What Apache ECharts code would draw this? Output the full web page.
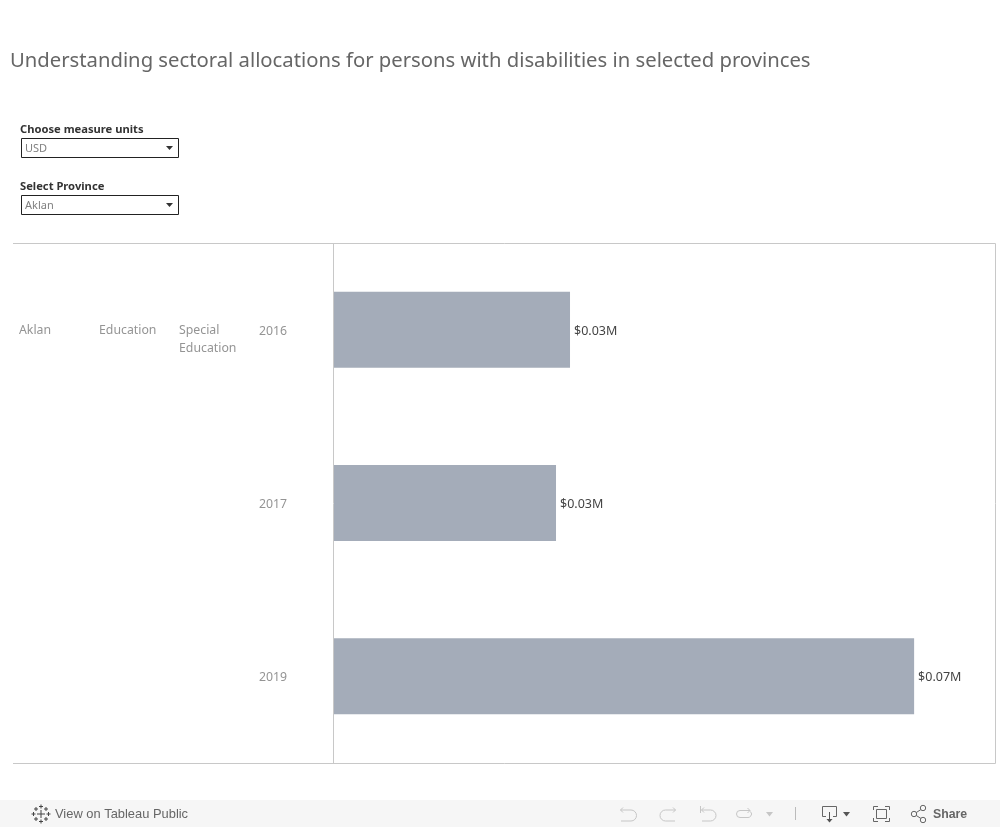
<!DOCTYPE html>
<html>
<head>
<meta charset="utf-8">
<style>html,body{margin:0;padding:0;background:#fff}#chart{width:1000px;height:827px}</style>
<script src="https://cdn.jsdelivr.net/npm/echarts@6/dist/echarts.min.js"></script>
</head>
<body>
<div id="chart"></div>
<script>
// Allocation per year, in millions of USD
const years = ['2016', '2017', '2019'];
const allocations = [0.03035, 0.02855, 0.0746];
const axisMax = 0.085;
const province = 'Aklan';
const sector = 'Education';
const program = 'Special\nEducation';
const heading = 'Understanding sectoral allocations for persons with disabilities in selected provinces';
const unitFilter = ['Choose measure units', 'USD'];
const provinceFilter = ['Select Province', 'Aklan'];

const BODY = '"Noto Sans", sans-serif';
const TOOL = '"Liberation Sans", sans-serif';
const ruleColor = '#c8c8c8';
const headerColor = '#949494';
const faintIcon = '#c6c6c6';
const darkIcon = '#666666';
const stripColor = '#f6f6f6';

function txt(x, y, text, size, fill, extra) {
  return { type: 'text', silent: true, style: Object.assign({
    x, y, text, fontFamily: BODY, fontSize: size, fill,
    verticalAlign: 'middle', lineHeight: 18
  }, extra || {}) };
}
function rule(x1, y1, x2, y2, color) {
  return { type: 'line', silent: true, shape: { x1, y1, x2, y2 },
    style: { stroke: color || ruleColor, lineWidth: 1 } };
}
function stroke(points, color) {
  return { type: 'polyline', silent: true, shape: { points },
    style: { stroke: color, lineWidth: 1, fill: 'none' } };
}
function curve(cx, cy, r, startAngle, endAngle, color) {
  return { type: 'arc', silent: true, shape: { cx, cy, r, startAngle, endAngle, clockwise: true },
    style: { stroke: color, lineWidth: 1, fill: 'none' } };
}
function caret(x, y, w, h, color) {
  return { type: 'polygon', silent: true, shape: { points: [[x, y], [x + w, y], [x + w / 2, y + h]] },
    style: { fill: color } };
}
function node(cx, cy) {
  return { type: 'circle', silent: true, z: 5, shape: { cx, cy, r: 2.7 },
    style: { fill: stripColor, stroke: darkIcon, lineWidth: 1 } };
}
function dropdown(top, label, value) {
  return [
    txt(20, top + 2, label, 11.2, '#333333', { fontWeight: 'bold' }),
    { type: 'rect', silent: true, shape: { x: 21.5, y: top + 10.5, width: 157, height: 19 },
      style: { fill: '#fff', stroke: '#222222', lineWidth: 1 } },
    txt(25, top + 21, value, 11, '#808080'),
    caret(166, top + 18, 7, 4, '#333333')
  ];
}

// Tableau-style cross mark built from short strokes
const logo = [];
[[41, 814, 4], [41, 806.5, 2], [41, 821.5, 2], [33.5, 814, 2], [48.5, 814, 2],
 [36, 809, 2], [46, 809, 2], [36, 819, 2], [46, 819, 2]].forEach(([x, y, r]) => {
  logo.push(rule(x - r, y, x + r, y, '#444444'), rule(x, y - r, x, y + r, '#444444'));
});

const HALF_PI = Math.PI / 2;
const toolbar = [
  { type: 'rect', silent: true, z: -1, shape: { x: 0, y: 800, width: 1000, height: 27 }, style: { fill: stripColor } },
  txt(55, 814.5, 'View on Tableau Public', 12.9, darkIcon, { fontFamily: TOOL }),
  txt(933, 814.5, 'Share', 12.3, darkIcon, { fontFamily: TOOL, fontWeight: 'bold' }),
  rule(795.5, 807, 795.5, 820, '#bbbbbb'),
  // undo
  stroke([[623, 807.5], [620.5, 810], [623, 812.5]], faintIcon),
  stroke([[620.5, 810], [631, 810]], faintIcon),
  curve(631, 815.5, 5.5, -HALF_PI, HALF_PI, faintIcon),
  stroke([[631, 821], [621, 821]], faintIcon),
  // redo
  stroke([[673, 807.5], [675.5, 810], [673, 812.5]], faintIcon),
  stroke([[675.5, 810], [665.5, 810]], faintIcon),
  curve(665.5, 815.5, 5.5, HALF_PI, -HALF_PI, faintIcon),
  stroke([[665.5, 821], [675, 821]], faintIcon),
  // revert
  rule(700.5, 806, 700.5, 813, faintIcon),
  stroke([[704, 807.5], [701.5, 810], [704, 812.5]], faintIcon),
  stroke([[701.5, 810], [710.5, 810]], faintIcon),
  curve(710.5, 815.5, 5.5, -HALF_PI, HALF_PI, faintIcon),
  stroke([[710.5, 821], [702, 821]], faintIcon),
  // refresh
  stroke([[750, 810.5], [740, 810.5]], faintIcon),
  curve(740, 814, 3.5, HALF_PI, -HALF_PI, faintIcon),
  stroke([[740, 817.5], [748, 817.5]], faintIcon),
  curve(748, 814, 3.5, -HALF_PI * 0.5, HALF_PI, faintIcon),
  stroke([[747.5, 808], [750, 810.5], [747.5, 813]], faintIcon),
  caret(766, 812, 7, 4.5, faintIcon),
  // device preview
  stroke([[826, 816.5], [822.5, 816.5], [822.5, 806.5], [836.5, 806.5], [836.5, 816.5], [833, 816.5]], darkIcon),
  rule(829.5, 812, 829.5, 820, '#555555'),
  caret(826.5, 819, 6, 3.5, '#555555'),
  caret(843, 812, 7, 4.5, '#555555'),
  // full screen
  stroke([[873.5, 810], [873.5, 806.5], [878, 806.5]], darkIcon),
  stroke([[885, 806.5], [889.5, 806.5], [889.5, 810]], darkIcon),
  stroke([[889.5, 818], [889.5, 821.5], [885, 821.5]], darkIcon),
  stroke([[878, 821.5], [873.5, 821.5], [873.5, 818]], darkIcon),
  { type: 'rect', silent: true, shape: { x: 876.5, y: 809.5, width: 10, height: 9 },
    style: { fill: 'none', stroke: darkIcon, lineWidth: 1 } },
  // share
  stroke([[922.5, 808.5], [914, 814], [922.5, 819.5]], darkIcon),
  node(914, 814), node(923, 808), node(923, 820)
];

const chrome = [
  // frame around the table
  rule(13, 243.5, 995.5, 243.5), rule(13, 763.5, 995.5, 763.5), rule(995.5, 243.5, 995.5, 763.5),
  rule(333.5, 243.5, 333.5, 763.5),
  // row headers
  txt(19, 330, province, 12.3, headerColor),
  txt(99, 330, sector, 12.3, headerColor),
  txt(179, 339, program, 12.3, headerColor)
]
  .concat(dropdown(128, unitFilter[0], unitFilter[1]))
  .concat(dropdown(185, provinceFilter[0], provinceFilter[1]))
  .concat(toolbar, logo);

const chart = echarts.init(document.getElementById('chart'), null, { renderer: 'canvas' });

chart.setOption({
  animation: false,
  backgroundColor: '#ffffff',
  title: {
    text: heading, left: 5, top: 46,
    textStyle: { fontFamily: BODY, fontSize: 20.25, fontWeight: 'normal', color: '#666666' }
  },
  grid: { left: 334, right: 5, top: 243, bottom: 64 },
  xAxis: { type: 'value', min: 0, max: axisMax, show: false },
  yAxis: {
    type: 'category', data: years, inverse: true,
    axisLine: { show: false }, axisTick: { show: false },
    axisLabel: {
      align: 'left', margin: 75, color: headerColor,
      formatter: '{year|{value}}',
      rich: { year: { fontFamily: BODY, fontSize: 12.3, color: headerColor, padding: [3, 0, 0, 0] } }
    }
  },
  series: [{
    type: 'bar', data: allocations, barWidth: 76,
    itemStyle: { color: '#a4acb9' },
    label: {
      show: true, position: 'right', distance: 4, offset: [0, 1.5],
      fontFamily: BODY, fontSize: 12.5, color: '#444444',
      formatter: p => '$' + p.value.toFixed(2) + 'M'
    }
  }],
  graphic: { elements: chrome }
});
</script>
</body>
</html>
